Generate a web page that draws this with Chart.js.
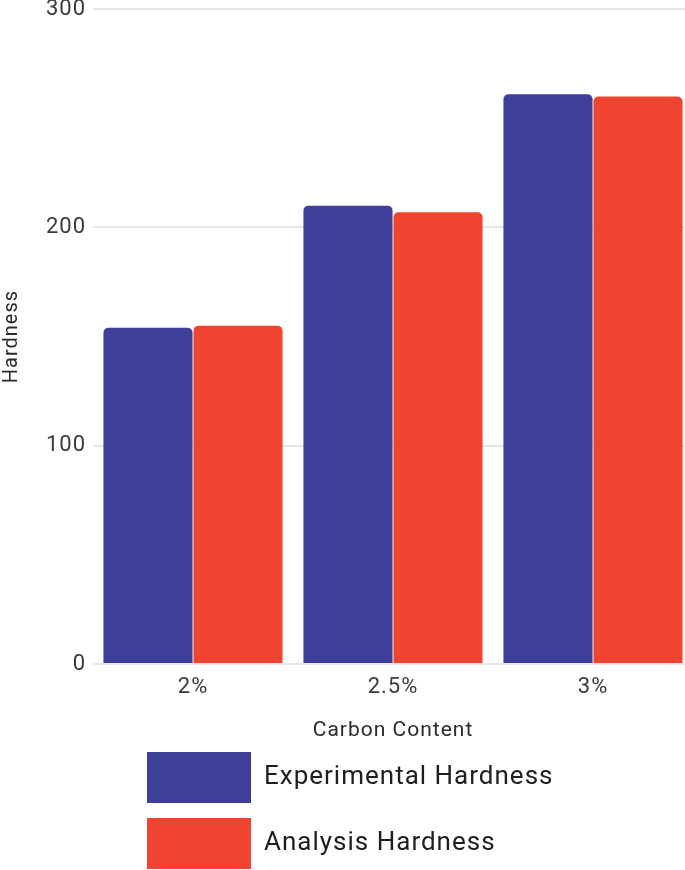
<!DOCTYPE html>
<html>
<head>
<meta charset="utf-8">
<title>Hardness vs Carbon Content</title>
<script src="https://cdn.jsdelivr.net/npm/chart.js@4.4.0/dist/chart.umd.min.js"></script>
<style>
  html, body { margin: 0; padding: 0; background: #fff; overflow: hidden; }
  .chart-wrap { position: relative; top: -11px; width: 694px; height: 890px; }
</style>
</head>
<body>
<div class="chart-wrap"><canvas id="hardnessChart"></canvas></div>
<script>
'use strict'

const carbonContent = ['2%', '2.5%', '3%'];
const experimentalHardness = [154, 210, 261];
const analysisHardness = [155, 207, 260];
const hardnessTicks = [0, 100, 200, 300];

const ctx = document.getElementById('hardnessChart');

Chart.defaults.font.family = 'Roboto';

// spaced-out lettering and a left aligned legend block
const textLook = {
    id: 'textLook',
    beforeUpdate(chart){
        chart.ctx.letterSpacing = '1px';
    },
    beforeDraw(chart){
        chart.ctx.letterSpacing = '1px';
    },
    afterLayout(chart){
        if(chart.legend){
            chart.legend.left = 132;
        }
    }
};

new Chart(ctx, {
    type: 'bar',
    data: {
        labels: carbonContent,
        datasets: [
            {
                label: 'Experimental Hardness',
                data: experimentalHardness,
                backgroundColor: '#3d3f98',
                borderWidth: 0,
                borderRadius: {topLeft: 5, topRight: 5}
            },
            {
                label: 'Analysis Hardness',
                data: analysisHardness,
                backgroundColor: '#ee4430',
                borderWidth: 0,
                borderRadius: {topLeft: 5, topRight: 5}
            }
        ]
    },
    plugins: [textLook],
    options: {
        responsive: true,
        maintainAspectRatio: false,
        animation: false,
        layout: {padding: {top: 0, right: 1, bottom: 0, left: 0}},
        datasets: {
            bar: {categoryPercentage: 0.9, barPercentage: 0.99}
        },
        scales: {
            x: {
                grid: {display: false, drawTicks: false},
                border: {display: false},
                ticks: {padding: 10, color: '#3a3a3a', font: {size: 22}},
                title: {
                    display: true,
                    text: 'Carbon Content',
                    color: '#2a2a2a',
                    font: {size: 21},
                    padding: {top: 0, bottom: -6}
                },
                afterFit(scale){ scale.height = 73; }
            },
            y: {
                min: 0,
                max: 300,
                afterBuildTicks(scale){
                    scale.ticks = hardnessTicks.map(v => ({value: v}));
                },
                grid: {color: '#e6e6e6', lineWidth: 2, drawTicks: false},
                border: {display: false},
                ticks: {padding: 7, color: '#3a3a3a', font: {size: 22}},
                title: {
                    display: true,
                    text: 'Hardness',
                    color: '#2a2a2a',
                    font: {size: 20},
                    padding: {top: 0, bottom: 0}
                },
                afterFit(scale){ scale.width = 93; }
            }
        },
        plugins: {
            legend: {
                position: 'bottom',
                align: 'start',
                labels: {
                    boxWidth: 104,
                    boxHeight: 51,
                    padding: 15,
                    color: '#1e1e1e',
                    font: {size: 26}
                }
            },
            tooltip: {enabled: false}
        }
    }
});
</script>
</body>
</html>
